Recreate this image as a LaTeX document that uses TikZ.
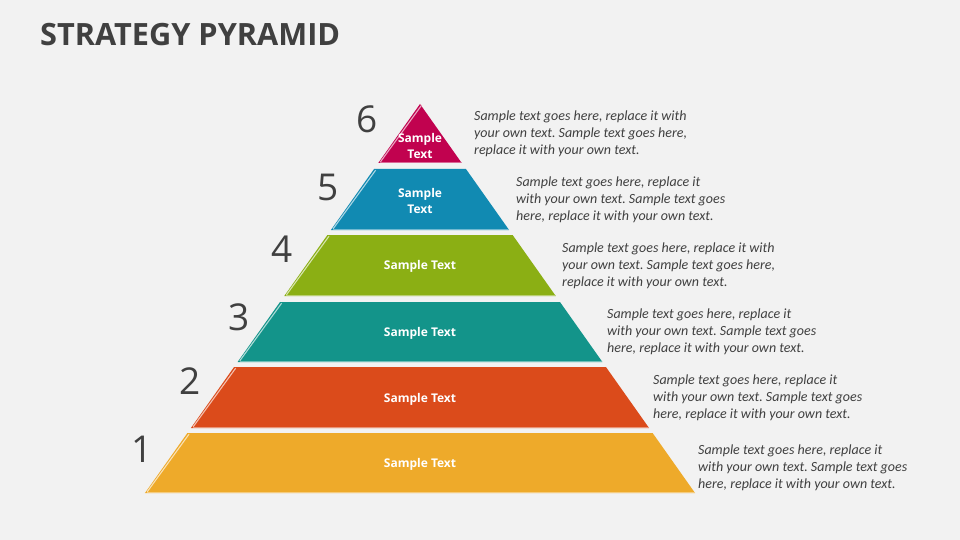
\documentclass[tikz,border=0pt]{standalone}
\usepackage{fontspec}
\setmainfont{Carlito}
\newfontfamily\opensans{Open Sans}
\usepackage{tikz}
\usetikzlibrary{positioning}
\usepackage{xcolor}
\definecolor{bgcol}{HTML}{F2F2F2}
\definecolor{inkgray}{HTML}{404040}
\definecolor{tierone}{HTML}{EEAA2A}
\definecolor{tiertwo}{HTML}{DB4B1B}
\definecolor{tierthree}{HTML}{13948A}
\definecolor{tierfour}{HTML}{8BAF14}
\definecolor{tierfive}{HTML}{118AB2}
\definecolor{tiersix}{HTML}{C1024F}
\frenchspacing
\newcommand{\descwide}{Sample text goes here, replace it with\\your own text. Sample text goes here,\\replace it with your own text.}
\newcommand{\descnarrow}{Sample text goes here, replace it\\with your own text. Sample text goes\\here, replace it with your own text.}

\begin{document}
\begin{tikzpicture}[x=1pt,y=-1pt,
          every node/.style={inner sep=0pt},
          numlab/.style={font=\opensans\fontsize{37}{40}\selectfont,text=inkgray},
          tierlab/.style={font=\opensans\bfseries\fontsize{12}{16.5}\selectfont,text=white,align=center},
          desc/.style={font=\itshape\fontsize{14}{17}\selectfont,text=inkgray,align=left,anchor=west},
        ]
        \fill[bgcol] (0,0) rectangle (960,540);
        \useasboundingbox (0,0) rectangle (960,540);
        \node[anchor=base west,font=\opensans\bfseries\fontsize{30.7}{36}\selectfont,text=inkgray] (title) at (40,46) {STRATEGY PYRAMID};
        % tiers of the pyramid, apex at (420,104)
        \foreach \n/\ya/\yb/\col in {6/104/163/tiersix, 5/169/230/tierfive, 4/235/296/tierfour,
                                   3/302/362/tierthree, 2/367/428/tiertwo, 1/433/493/tierone} {
          \pgfmathsetmacro\wa{(\ya-104)*0.707}
          \pgfmathsetmacro\wb{(\yb-104)*0.707}
          \fill[\col] (420-\wa,\ya) -- (420+\wa,\ya) -- (420+\wb,\yb) -- (420-\wb,\yb) -- cycle;
          \draw[\col!35!white,line width=1.1pt] (420-\wb+2.2,\yb-1.2) -- (420-\wa+1.6,\ya+1.2);
          \draw[\col!60!white,line width=0.7pt] (420-\wb+2,\yb-0.4) -- (420+\wb-0.5,\yb-0.4);
        }
        \foreach \n/\y/\txt in {6/146/{Sample\\Text}, 5/201/{Sample\\Text}, 4/266/{Sample Text},
                               3/333/{Sample Text}, 2/399/{Sample Text}, 1/464/{Sample Text}} {
          \node[tierlab] (lab\n) at (420,\y) {\txt};
        }
        \foreach \n/\x/\y in {6/367/119, 5/328/187, 4/282/249, 3/239/317, 2/190/381, 1/142/449} {
          \node[numlab] (num\n) at (\x,\y) {\n};
        }
        \foreach \n/\x/\y/\txt in {6/474/134/\descwide, 5/516/200/\descnarrow, 4/562/266/\descwide,
                                  3/607/332/\descnarrow, 2/653/398/\descnarrow, 1/698/468/\descnarrow} {
          \node[desc] (desc\n) at (\x,\y) {\txt};
        }
      \end{tikzpicture}
\end{document}
